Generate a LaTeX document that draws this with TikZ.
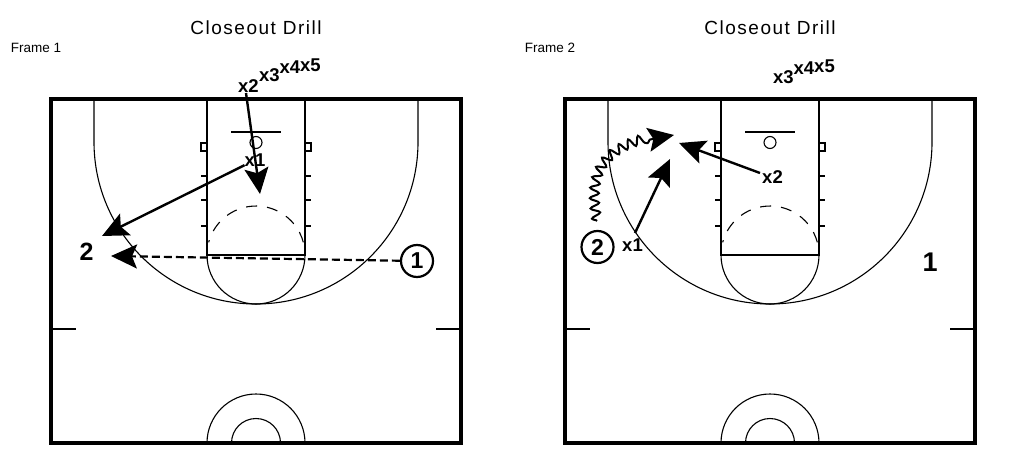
\documentclass[tikz,border=0pt]{standalone}
\usepackage{fontspec}
\setmainfont{Liberation Sans}
\usetikzlibrary{arrows.meta,decorations.pathmorphing}
\newcommand\courtdraw[1]{%
\begin{scope}[xshift=#1]
  \draw[court] (207,352) -- (207,196) -- (305,196) -- (305,352);
  \draw[court] (231,319) -- (281,319);
  \draw[court] (256,308.5) circle[radius=6];
  \draw[court] (201,300) rectangle (207,308);
  \draw[court] (305,300) rectangle (311,308);
  \foreach \yy in {275,251,225} {\draw[court] (201,\yy) -- (207,\yy); \draw[court] (305,\yy) -- (311,\yy);}
  \draw[court] (305,196) arc[start angle=0,end angle=-180,radius=49];
  \draw[court,dash pattern=on 11pt off 10pt] (256,196) ++(15:49) arc[start angle=15,end angle=165,radius=49];
  \draw[court] (94,352) -- (94,309) arc[start angle=180,end angle=360,radius=162] -- (418,352);
  \draw[court] (51,122) -- (76,122);
  \draw[court] (436,122) -- (461,122);
  \draw[court] (305,8) arc[start angle=0,end angle=180,radius=49];
  \draw[court] (280.5,8) arc[start angle=0,end angle=180,radius=24.5];
  \draw[border] (51,8) rectangle (461,352);
\end{scope}}
\begin{document}
\begin{tikzpicture}[x=1pt,y=1pt,
  court/.style={line width=1.1pt},
  border/.style={line width=3.5pt},
  arr/.style={line width=2.4pt,-{Stealth[length=26pt,width=24pt,inset=5pt]}},
  dasharr/.style={arr,line width=2.2pt,dash pattern=on 8pt off 4pt},
  wavy/.style={arr,line width=2pt,decorate,decoration={snake,amplitude=4.5pt,segment length=10pt,post length=22pt}},
  ttl/.style={inner sep=0pt,font=\fontsize{19}{23}\selectfont\addfontfeature{LetterSpace=8}},
  frm/.style={inner sep=0pt,font=\fontsize{13.5}{16}\selectfont},
  lbl/.style={inner sep=0pt,font=\fontsize{18.5}{21}\selectfont\bfseries},
  big/.style={inner sep=0pt,font=\fontsize{25}{29}\selectfont\bfseries},
  ring/.style={circle,draw,line width=2.2pt,minimum size=32pt,inner sep=0pt,font=\fontsize{23}{27}\selectfont\bfseries}
]
\useasboundingbox (0,0) rectangle (1024,451);
\courtdraw{0pt}
\courtdraw{514pt}
% titles
\node[ttl,anchor=base] (t1) at (256,416.7) {Closeout Drill};
\node[ttl,anchor=base] (t2) at (770,416.7) {Closeout Drill};
\node[frm,anchor=base west] (f1) at (10.7,398.7) {Frame 1};
\node[frm,anchor=base west] (f2) at (524.7,398.7) {Frame 2};
% frame 1 players
\node[lbl,anchor=base west] (p1x2) at (238,358.7) {x2};
\node[lbl,anchor=base west] (p1x3) at (259,369.3) {x3};
\node[lbl,anchor=base west] (p1x4) at (279.5,377.7) {x4};
\node[lbl,anchor=base west] (p1x5) at (300,379.3) {x5};
\node[lbl] (p1x1) at (255,291) {x1};
\node[ring] (p1o1) at (417,190) {1};
\node[big] (p1o2) at (86.5,199) {2};
\coordinate (a1s) at (246,358);
\coordinate (a1t) at (260,257);
\coordinate (a2t) at (102,215);
\coordinate (a3t) at (111,195);
\draw[arr] (a1s) -- (a1t);
\draw[arr] (p1x1) -- (a2t);
\draw[dasharr] (p1o1) -- (a3t);
% frame 2 players
\node[lbl,anchor=base west] (p2x3) at (773,368) {x3};
\node[lbl,anchor=base west] (p2x4) at (793.5,377) {x4};
\node[lbl,anchor=base west] (p2x5) at (814,379) {x5};
\node[lbl] (p2x1) at (632.5,206) {x1};
\node[lbl] (p2x2) at (772.5,274) {x2};
\node[ring] (p2o2) at (597.5,204) {2};
\node[big,font=\fontsize{27}{31}\selectfont\bfseries] (p2o1) at (930,189) {1};
\coordinate (b1s) at (635,218);
\coordinate (b1t) at (670,292);
\coordinate (b2s) at (760,278);
\coordinate (b2t) at (679,308);
\coordinate (b3s) at (597,230);
\coordinate (b3t) at (674,316);
\draw[arr] (b1s) -- (b1t);
\draw[arr] (b2s) -- (b2t);
\draw[wavy] (b3s) .. controls (588,281) and (605,306) .. (b3t);
\end{tikzpicture}
\end{document}
